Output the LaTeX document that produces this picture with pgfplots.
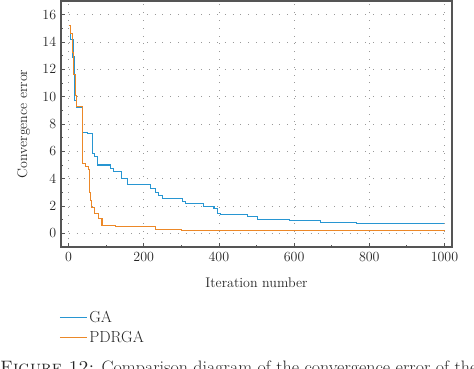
\documentclass[border=0pt]{standalone}
\usepackage{fontspec}
\usepackage{pgfplots}
\pgfplotsset{compat=1.18}
\definecolor{gablue}{RGB}{40,150,210}
\definecolor{pdorange}{RGB}{236,136,40}
\definecolor{framegray}{RGB}{85,85,85}
\newcommand{\bigf}{\fontsize{14}{17}\selectfont}
\begin{document}
\bigf
\begin{tikzpicture}[font=\bigf]
\begin{axis}[
  at={(61pt,121pt)}, anchor=south west,
  scale only axis, width=391pt, height=246pt,
  xmin=-20, xmax=1020, ymin=-1, ymax=17,
  xtick={0,200,400,600,800,1000},
  ytick={0,2,4,6,8,10,12,14,16},
  minor x tick num=1, minor y tick num=1,
  tick pos=left, tick align=inside,
  major tick length=4pt, minor tick length=2.5pt,
  every tick/.style={framegray, line width=0.8pt},
  axis line style={framegray, line width=1.4pt},
  grid=major,
  major grid style={gray!80, line width=0.8pt, dash pattern=on 0.8pt off 7pt},
  /pgf/number format/assume math mode=true,
  /pgf/number format/1000 sep={},
  every tick label/.append style={font=\bigf, text=black!85},
  xlabel={Iteration number}, ylabel={Convergence error},
  every axis label/.append style={font=\bigf, text=black!85},
  xlabel style={yshift=-7pt},
  ylabel style={yshift=3pt},
  legend style={draw=none, fill=none, at={(axis description cs:-0.005,-0.25)}, anchor=north west,
    font=\fontsize{16}{19}\selectfont, text=black!85, row sep=3pt, inner sep=0pt},
  legend cell align=left,
  legend image code/.code={\draw[#1] (0pt,0pt) -- (27pt,0pt);},
]
\addplot[const plot, color=gablue, line width=1.1pt] coordinates {
(0,15.2)(6,14.2)(12,12.9)(17,9.7)(22,9.2)(38,7.4)(50,7.3)(63,5.85)(68,5.6)(76,5.0)(111,4.75)(120,4.5)(142,4.0)(156,3.55)(218,3.3)(231,3.0)(240,2.8)(249,2.55)(302,2.3)(311,2.2)(360,1.95)(387,1.85)(396,1.45)(404,1.38)(476,1.22)(502,1.02)(587,0.92)(671,0.8)(765,0.73)(1000,0.73)};
\addlegendentry{GA}
\addplot[const plot, color=pdorange, line width=1.1pt] coordinates {
(0,15.2)(6,14.6)(10,13.2)(14,11.6)(18,10.1)(22,9.25)(38,5.1)(45,4.9)(52,4.7)(55,4.1)(57,3.0)(59,2.4)(62,1.9)(70,1.45)(80,1.1)(89,0.6)(125,0.5)(231,0.28)(300,0.24)(1000,0.22)};
\addlegendentry{PDRGA}
\end{axis}
\node[anchor=north west, inner sep=0pt, font=\fontsize{18}{22}\selectfont, text=black!85] at (0pt,7pt) {\textsc{Figure 12:} Comparison diagram of the convergence error of the};
\pgfresetboundingbox
\useasboundingbox (0pt,0pt) rectangle (474pt,368pt);
\end{tikzpicture}
\end{document}
